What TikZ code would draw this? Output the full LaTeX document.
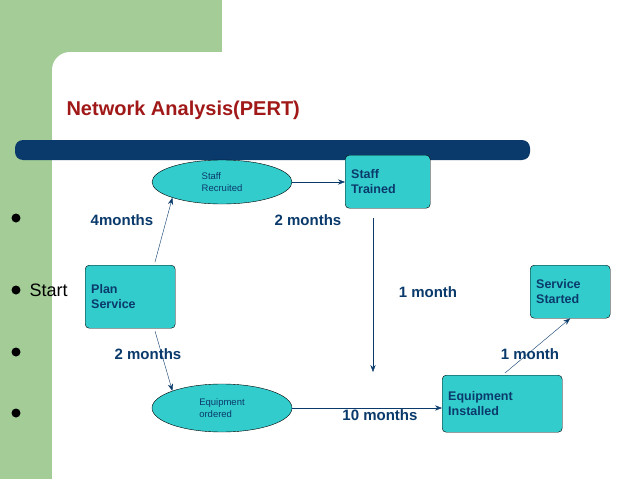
\documentclass[tikz,border=0pt]{standalone}
\usepackage{fontspec}
\setmainfont{Liberation Sans}
\usetikzlibrary{shapes.geometric,arrows.meta}
\definecolor{grn}{HTML}{A3CC96}
\definecolor{cy}{HTML}{33CCCC}
\definecolor{nv}{HTML}{0A3A6B}
\definecolor{ttl}{HTML}{A01818}
\begin{document}
\begin{tikzpicture}[x=1pt,y=-1pt,
 box/.style={draw=black,fill=cy,rounded corners=4pt,align=left,text=nv,font=\bfseries\fontsize{12.5}{15}\selectfont,anchor=north west,inner xsep=6pt,inner ysep=5pt},
 ell/.style={draw=black,fill=cy,ellipse,align=left,text=nv,font=\fontsize{9.5}{11.5}\selectfont},
 lbl/.style={text=nv,font=\bfseries\fontsize{15}{18}\selectfont},
 arr/.style={draw=nv,-{Stealth[length=7pt]},thin}]
\useasboundingbox (0,0) rectangle (638,479);
\fill[white] (0,0) rectangle (638,479);
\fill[grn] (0,0) rectangle (222,479);
\fill[white,rounded corners=18pt] (52,52) rectangle (700,520);
\fill[nv,rounded corners=8pt] (15,140) rectangle (530,160);
\node[anchor=west,text=ttl,font=\bfseries\fontsize{20}{24}\selectfont] (title) at (63,110) {Network Analysis(PERT)};
\foreach \y in {218,290,352,413}{\fill (16,\y) circle (4.5);}
\node[anchor=west,font=\fontsize{18}{21}\selectfont] (start) at (26,290) {Start};
\node[ell,minimum width=140,minimum height=44] (sr) at (222,182) {Staff\\Recruited};
\node[box,minimum width=85,minimum height=53,text width=73] (st) at (345,155) {Staff\\Trained\\[5pt]};
\node[box,minimum width=90,minimum height=63,text width=78] (ps) at (85,265) {Plan\\Service\\[12pt]};
\node[ell,minimum width=140,minimum height=48] (eo) at (222,408) {Equipment\\ordered};
\node[box,minimum width=120,minimum height=57,text width=108] (ei) at (442,375) {Equipment\\Installed\\[8pt]};
\node[box,minimum width=80,minimum height=53,text width=68] (ss) at (530,265) {Service\\Started\\[5pt]};
\coordinate (a1) at (155,262);
\draw[arr] (a1) -- (sr.south west);
\draw[arr] (sr.east) -- (st.west |- sr.east);
\coordinate (c1) at (373,218); \coordinate (c2) at (373,372);
\draw[arr] (c1) -- (c2);
\coordinate (a2) at (155,331);
\draw[arr] (a2) -- (eo.north west);
\draw[arr] (eo.east) -- (ei.west |- eo.east);
\coordinate (a3) at (505,373);
\draw[arr] (a3) -- (ss.south);
\node[lbl] (l1) at (122,220) {4months};
\node[lbl] (l2) at (308,220) {2 months};
\node[lbl] (l3) at (428,292) {1 month};
\node[lbl] (l4) at (148,354) {2 months};
\node[lbl] (l5) at (530,354) {1 month};
\node[lbl] (l6) at (380,415) {10 months};
\end{tikzpicture}
\end{document}
